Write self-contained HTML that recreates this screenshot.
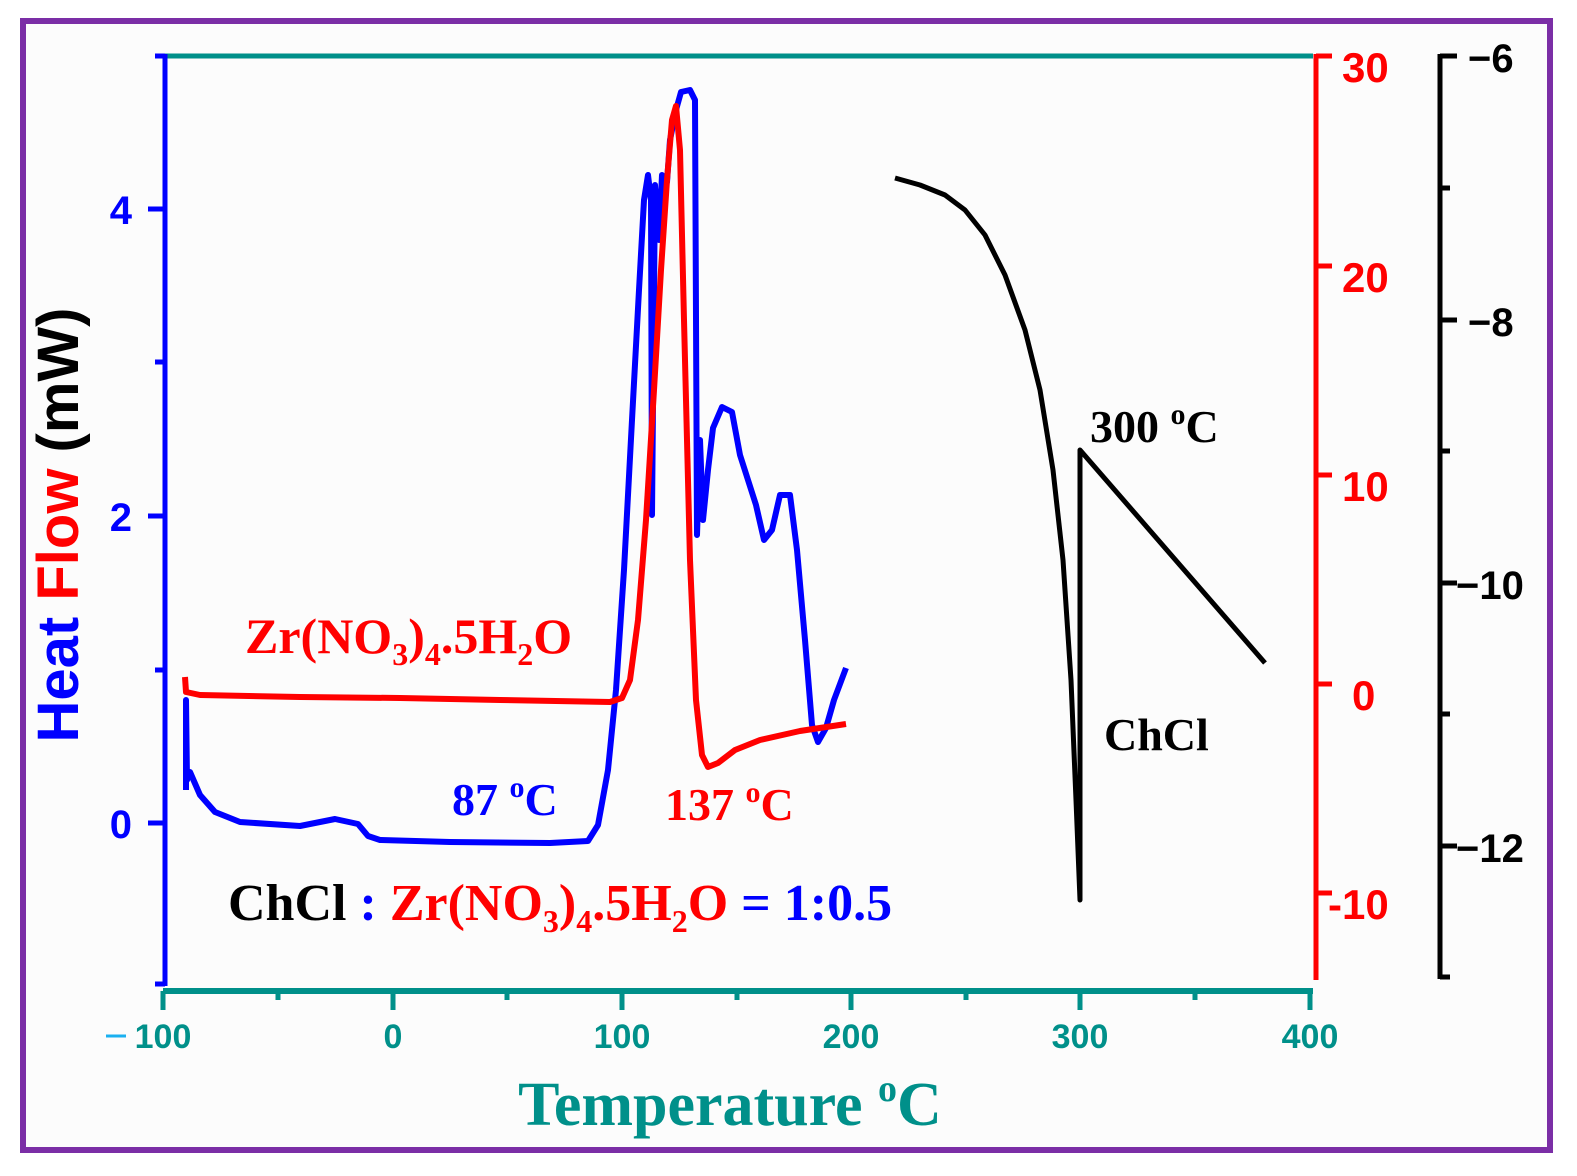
<!DOCTYPE html>
<html><head><meta charset="utf-8"><style>
body{margin:0;background:#fff}
svg{display:block}
.sans{font-family:"Liberation Sans",sans-serif;font-weight:bold}
.serif{font-family:"Liberation Serif",serif;font-weight:bold}
</style></head><body>
<svg width="1577" height="1176" viewBox="0 0 1577 1176">
<rect x="0" y="0" width="1577" height="1176" fill="#fff"/>
<rect x="23" y="21" width="1527" height="1129" fill="#fcfcfc" stroke="#7b2ea6" stroke-width="6"/>
<line x1="163" y1="56" x2="1313" y2="56" stroke="#00908a" stroke-width="5"/>
<line x1="163" y1="991" x2="1313" y2="991" stroke="#00908a" stroke-width="6"/>
<g stroke="#00908a" stroke-width="5">
<line x1="163" y1="991" x2="163" y2="1010"/><line x1="393" y1="991" x2="393" y2="1010"/><line x1="622" y1="991" x2="622" y2="1010"/><line x1="851" y1="991" x2="851" y2="1010"/><line x1="1080" y1="991" x2="1080" y2="1010"/><line x1="1310" y1="991" x2="1310" y2="1010"/>
<line x1="278" y1="991" x2="278" y2="1000"/><line x1="507" y1="991" x2="507" y2="1000"/><line x1="737" y1="991" x2="737" y2="1000"/><line x1="966" y1="991" x2="966" y2="1000"/><line x1="1195" y1="991" x2="1195" y2="1000"/>
</g>
<g class="sans" fill="#00908a" font-size="34" text-anchor="middle">
<text x="163" y="1048">100</text><text x="393" y="1048">0</text><text x="622" y="1048">100</text><text x="851" y="1048">200</text><text x="1080" y="1048">300</text><text x="1310" y="1048">400</text>
</g>
<line x1="106" y1="1036" x2="126" y2="1036" stroke="#1ab0f0" stroke-width="3"/>
<text class="serif" x="730" y="1125" font-size="62" fill="#00908a" text-anchor="middle">Temperature <tspan font-size="38" dy="-24">o</tspan><tspan dy="24">C</tspan></text>
<line x1="165" y1="54" x2="165" y2="986" stroke="#0000ff" stroke-width="5"/>
<g stroke="#0000ff" stroke-width="5">
<line x1="155" y1="56" x2="165" y2="56"/><line x1="148" y1="209" x2="165" y2="209"/><line x1="155" y1="362" x2="165" y2="362"/><line x1="148" y1="516" x2="165" y2="516"/><line x1="155" y1="670" x2="165" y2="670"/><line x1="148" y1="823" x2="165" y2="823"/><line x1="155" y1="984" x2="165" y2="984"/>
</g>
<g class="sans" fill="#0000ff" font-size="40" text-anchor="end">
<text x="132" y="224">4</text><text x="132" y="531">2</text><text x="132" y="838">0</text>
</g>
<text class="sans" transform="translate(78,525) rotate(-90)" font-size="58" text-anchor="middle"><tspan fill="#0000ff">Heat </tspan><tspan fill="#ff0000">Flow </tspan><tspan fill="#000">(mW)</tspan></text>
<line x1="1316" y1="54" x2="1316" y2="980" stroke="#ff0000" stroke-width="5"/>
<g stroke="#ff0000" stroke-width="5">
<line x1="1316" y1="56" x2="1332" y2="56"/><line x1="1316" y1="266" x2="1332" y2="266"/><line x1="1316" y1="475" x2="1332" y2="475"/><line x1="1316" y1="684" x2="1332" y2="684"/><line x1="1316" y1="893" x2="1332" y2="893"/>
</g>
<g class="sans" fill="#ff0000" font-size="42">
<text x="1342" y="82">30</text><text x="1342" y="292">20</text><text x="1342" y="501">10</text><text x="1352" y="710">0</text><text x="1328" y="919">-10</text>
</g>
<line x1="1440" y1="54" x2="1440" y2="979" stroke="#000" stroke-width="5"/>
<g stroke="#000" stroke-width="5">
<line x1="1440" y1="56" x2="1457" y2="56"/><line x1="1440" y1="188" x2="1450" y2="188"/><line x1="1440" y1="320" x2="1457" y2="320"/><line x1="1440" y1="451" x2="1450" y2="451"/><line x1="1440" y1="583" x2="1457" y2="583"/><line x1="1440" y1="714" x2="1450" y2="714"/><line x1="1440" y1="846" x2="1457" y2="846"/><line x1="1440" y1="977" x2="1450" y2="977"/>
</g>
<g class="sans" fill="#000" font-size="40">
<text x="1468" y="72">−6</text><text x="1468" y="336">−8</text><text x="1456" y="599">−10</text><text x="1456" y="862">−12</text>
</g>
<polyline fill="none" stroke="#0000ff" stroke-width="6" stroke-linejoin="round" points="186,790 186,700 187,780 190,772 200,795 215,812 240,822 300,826 335,819 358,824 368,836 380,840 450,842 550,843 588,841 598,825 608,770 616,690 624,570 632,420 639,290 644,200 648,175 651,200 652,515 655,185 659,240 662,175 667,182 670,140 676,110 681,92 690,90 695,100 697,535 700,440 703,520 708,470 713,428 722,407 732,412 740,455 748,480 756,505 764,540 772,530 780,495 790,495 797,550 805,640 812,725 818,742 826,728 834,700 846,668"/>
<polyline fill="none" stroke="#ff0000" stroke-width="6" stroke-linejoin="round" points="185,677 186,692 200,695 300,697 400,698 500,700 610,702 622,698 630,680 638,620 646,520 654,390 661,270 667,180 672,120 676,106 680,150 684,320 690,560 696,700 702,755 708,767 718,763 735,750 760,740 800,731 846,724"/>
<polyline fill="none" stroke="#000" stroke-width="5" stroke-linejoin="round" points="895,178 920,185 945,195 965,210 985,235 1005,275 1025,330 1040,390 1053,470 1063,560 1071,680 1076,800 1080,900 1080,450 1265,663"/>
<text class="serif" x="245" y="653" font-size="50" fill="#ff0000">Zr(NO<tspan font-size="32" dy="12">3</tspan><tspan dy="-12">)</tspan><tspan font-size="32" dy="12">4</tspan><tspan dy="-12">.5H</tspan><tspan font-size="32" dy="12">2</tspan><tspan dy="-12">O</tspan></text>
<text class="serif" x="452" y="815" font-size="46" fill="#0000ff">87 <tspan font-size="30" dy="-18">o</tspan><tspan dy="18">C</tspan></text>
<text class="serif" x="665" y="820" font-size="46" fill="#ff0000">137 <tspan font-size="30" dy="-18">o</tspan><tspan dy="18">C</tspan></text>
<text class="serif" x="1090" y="442" font-size="46" fill="#000">300 <tspan font-size="30" dy="-18">o</tspan><tspan dy="18">C</tspan></text>
<text class="serif" x="1104" y="750" font-size="46" fill="#000">ChCl</text>
<text class="serif" x="228" y="920" font-size="52"><tspan fill="#000">ChCl </tspan><tspan fill="#0000ff">: </tspan><tspan fill="#ff0000">Zr(NO</tspan><tspan fill="#ff0000" font-size="32" dy="12">3</tspan><tspan fill="#ff0000" dy="-12">)</tspan><tspan fill="#ff0000" font-size="32" dy="12">4</tspan><tspan fill="#ff0000" dy="-12">.5H</tspan><tspan fill="#ff0000" font-size="32" dy="12">2</tspan><tspan fill="#ff0000" dy="-12">O </tspan><tspan fill="#0000ff">= 1:0.5</tspan></text>
</svg>
</body></html>
